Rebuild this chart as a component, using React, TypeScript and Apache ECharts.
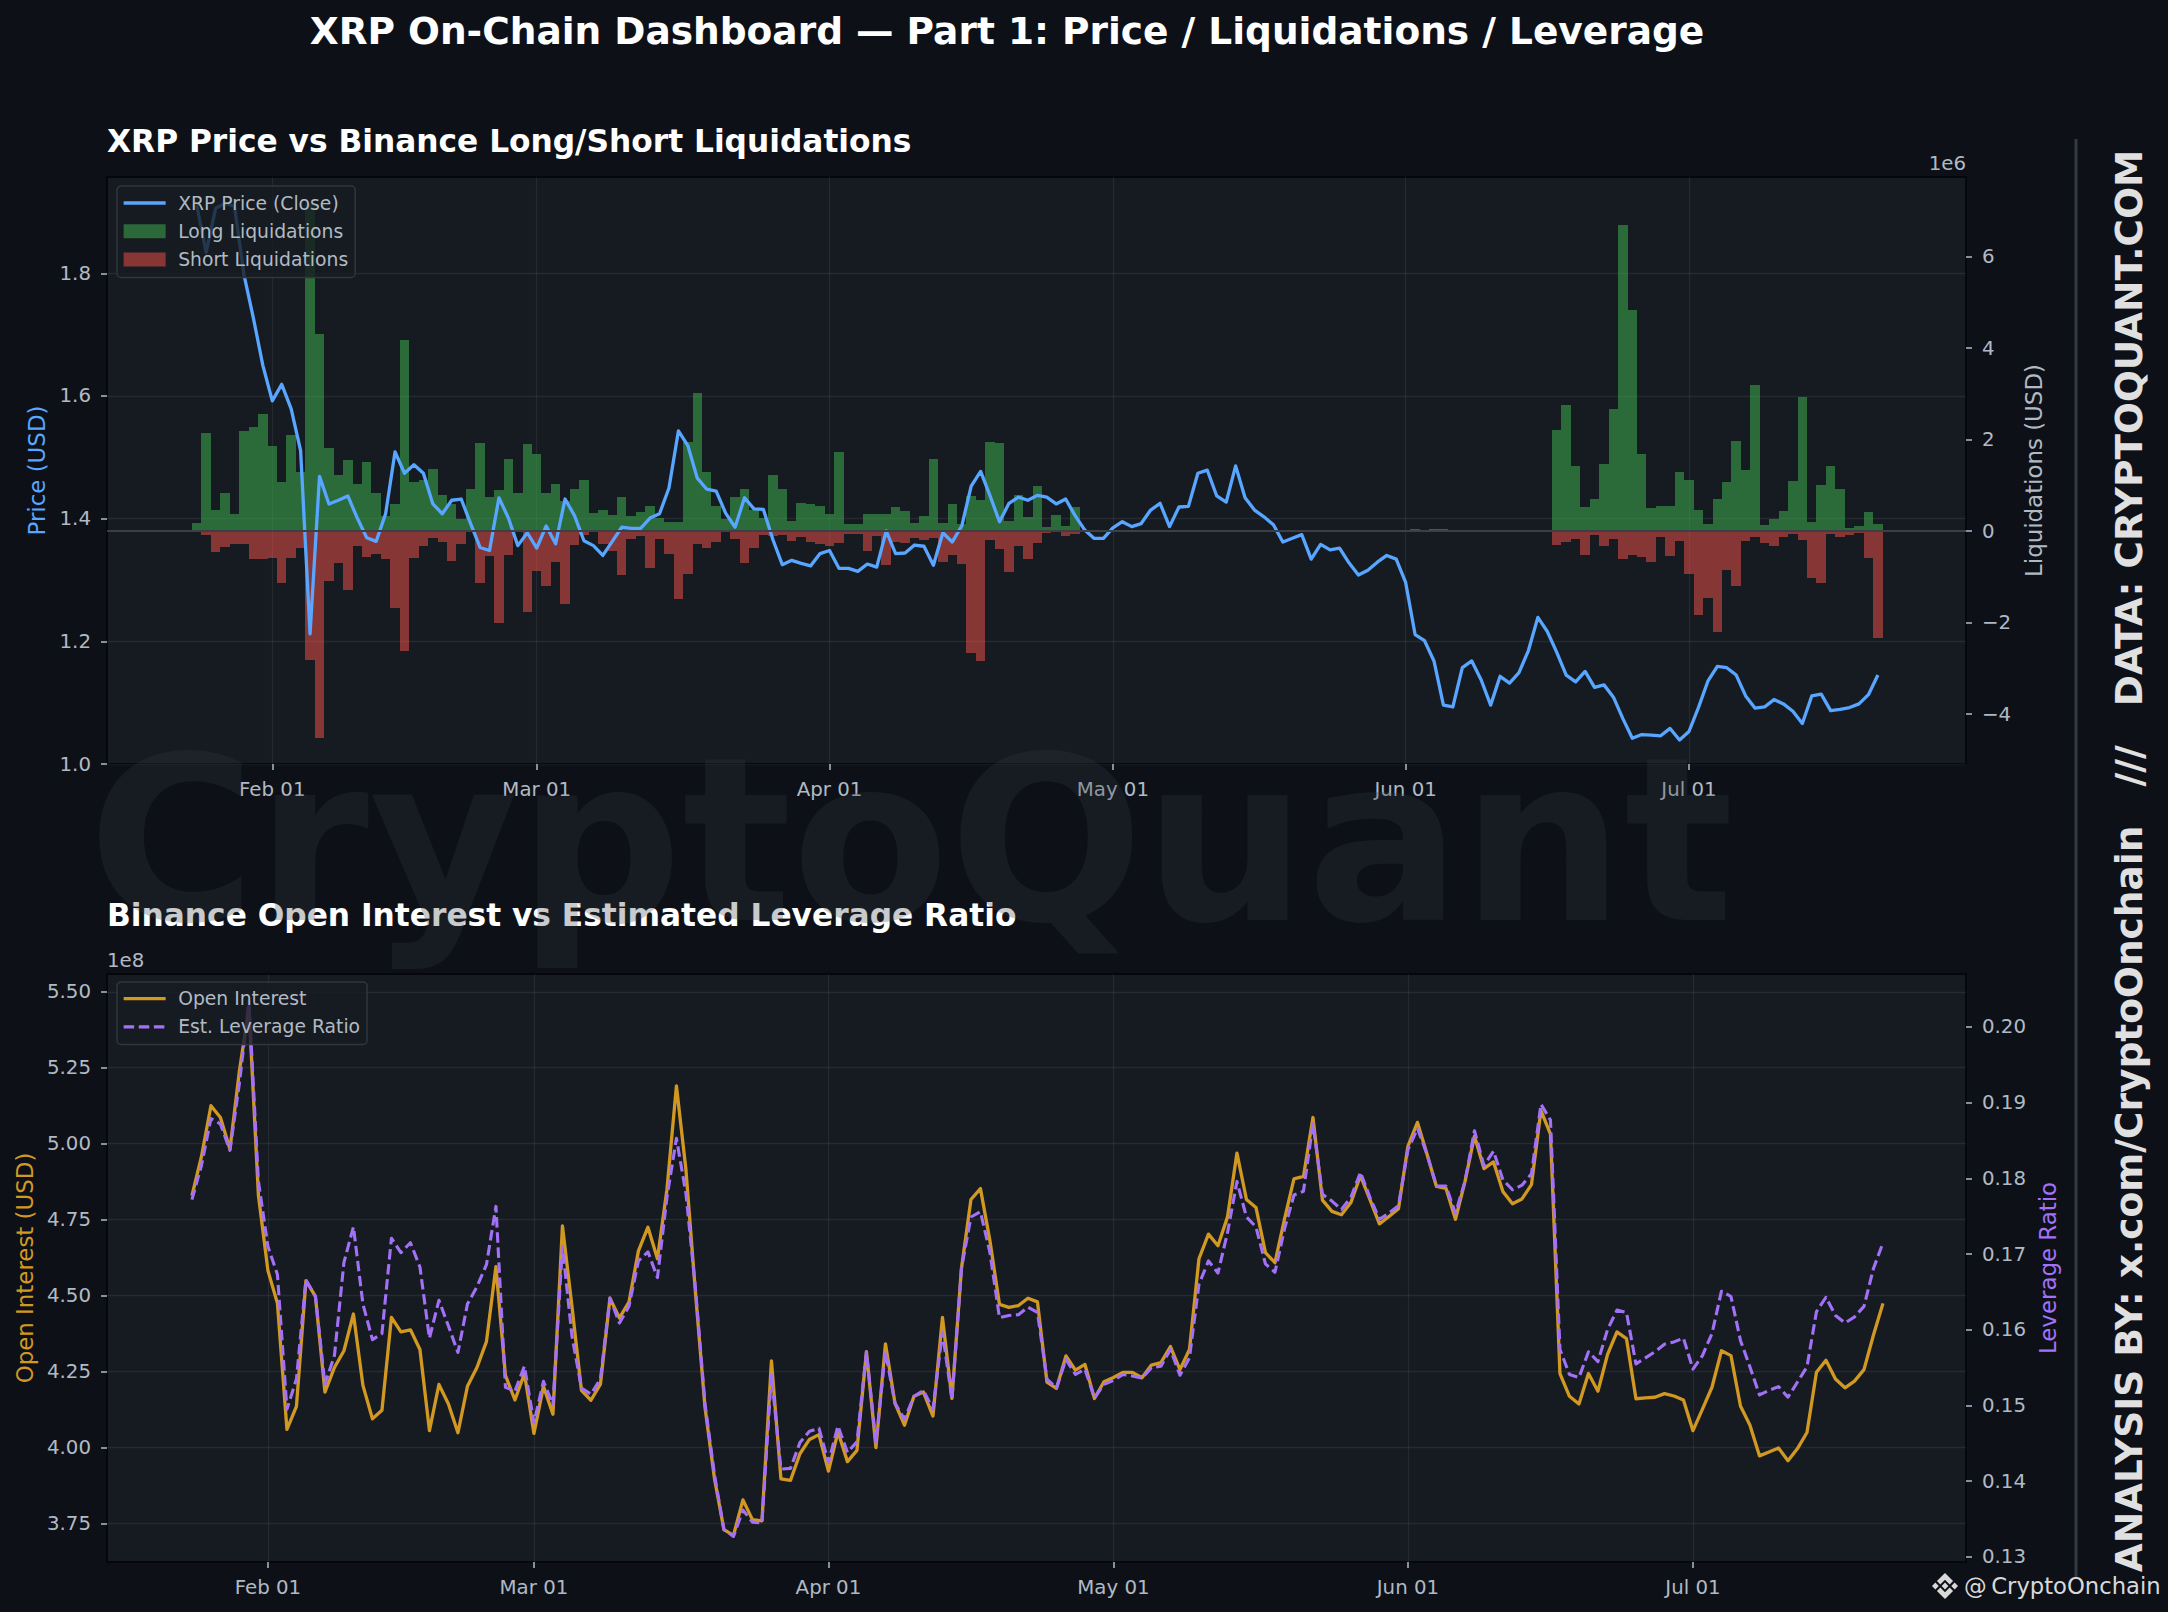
import React, { useEffect, useRef } from "react";
import * as echarts from "echarts";

const FONT = "DejaVu Sans";
const START_DAY = Date.UTC(2026, 0, 24);
const DAY = 86400000;

const priceClose = [
  1.911,1.834,1.906,1.914,1.909,1.798,1.727,1.650,1.592,1.619,
  1.579,1.511,1.212,1.469,1.424,1.430,1.437,1.401,1.369,1.363,
  1.408,1.509,1.474,1.488,1.474,1.424,1.408,1.430,1.432,1.392,
  1.353,1.348,1.434,1.401,1.356,1.377,1.352,1.388,1.359,1.432,
  1.405,1.364,1.356,1.340,1.363,1.386,1.384,1.384,1.401,1.408,
  1.450,1.543,1.519,1.466,1.448,1.445,1.409,1.386,1.434,1.416,
  1.415,1.366,1.325,1.332,1.327,1.323,1.343,1.348,1.319,1.319,
  1.314,1.326,1.321,1.380,1.343,1.344,1.357,1.355,1.324,1.377,
  1.362,1.388,1.453,1.477,1.437,1.395,1.425,1.435,1.430,1.438,
  1.435,1.424,1.432,1.405,1.382,1.368,1.368,1.385,1.395,1.387,
  1.392,1.414,1.425,1.387,1.419,1.420,1.474,1.479,1.437,1.427,
  1.486,1.434,1.414,1.403,1.390,1.362,1.368,1.374,1.334,1.358,
  1.349,1.352,1.328,1.308,1.316,1.329,1.340,1.334,1.296,1.211,
  1.201,1.168,1.096,1.093,1.157,1.168,1.137,1.096,1.143,1.132,
  1.149,1.185,1.239,1.216,1.182,1.145,1.134,1.151,1.125,1.129,
  1.109,1.074,1.042,1.048,1.047,1.046,1.058,1.039,1.053,1.092,
  1.135,1.159,1.157,1.145,1.111,1.091,1.093,1.105,1.098,1.086,
  1.066,1.111,1.114,1.087,1.089,1.092,1.098,1.113,1.145,
];

const longLiq = [
  .17,2.14,.47,.83,.37,2.18,2.27,2.57,1.87,1.07,
  2.10,1.29,7.15,4.30,1.81,1.22,1.55,1.03,1.50,.83,
  .33,.59,4.17,1.08,1.11,1.36,.79,.60,.26,.93,
  1.92,.74,.89,1.57,.83,1.90,1.68,.83,1.03,.66,
  .92,1.11,.39,.47,.35,.74,.33,.41,.54,.28,
  .20,.20,1.94,3.01,1.29,.54,.26,.74,.93,.46,
  .28,1.22,.93,.22,.61,.59,.54,.37,1.74,.15,
  .15,.37,.37,.37,.52,.43,.17,.33,1.57,.18,
  .59,.16,.76,.67,1.94,1.92,.22,.80,.30,.98,
  .09,.35,.11,.52,0,0,0,0,0,0,
  0,0,0,0,0,0,0,0,0,0,
  0,0,0,0,0,0,0,0,0,0,
  0,0,0,0,0,0,0,0,0,.04,
  .01,.04,.04,0,0,0,0,0,0,0,
  0,0,0,0,2.20,2.75,1.42,.52,.70,1.46,
  2.66,6.68,4.83,1.68,.50,.56,.54,1.29,1.11,.46,
  .15,.70,1.07,1.96,1.33,3.20,.13,.26,.44,1.10,
  2.93,.20,1.00,1.43,.93,.07,.11,.41,.15,
];

const shortLiq = [
  0,-.08,-.45,-.35,-.28,-.28,-.60,-.60,-.59,-1.13,
  -.59,-.36,-2.82,-4.53,-1.09,-.70,-1.28,-.32,-.56,-.50,
  -.60,-1.68,-2.63,-.59,-.32,-.15,-.23,-.65,-.28,-.02,
  -1.13,-.54,-2.00,-.52,-.02,-1.76,-.87,-1.19,-.68,-1.59,
  -.30,-.09,-.02,-.29,-.43,-.96,-.17,-.10,-.80,-.17,
  -.49,-1.48,-.93,-.28,-.36,-.23,-.02,-.17,-.70,-.36,
  -.09,-.10,-.08,-.22,-.12,-.24,-.28,-.32,-.26,-.06,
  -.06,-.43,-.11,-.73,-.23,-.26,-.16,-.19,-.16,-.68,
  -.52,-.72,-2.66,-2.83,-.20,-.39,-.89,-.32,-.60,-.26,
  -.04,-.03,-.10,-.06,0,0,0,0,0,0,
  0,0,0,0,0,0,0,0,0,0,
  0,0,0,0,0,0,0,0,0,0,
  0,0,0,0,0,0,0,0,0,0,
  0,0,0,0,0,0,0,0,0,0,
  0,0,0,0,-.30,-.23,-.17,-.52,-.08,-.32,
  -.17,-.60,-.52,-.56,-.68,-.12,-.54,-.22,-.94,-1.83,
  -1.46,-2.20,-.85,-1.19,-.22,-.13,-.26,-.33,-.13,-.07,
  -.20,-1.03,-1.14,-.07,-.13,-.09,-.04,-.59,-2.34,
];

const openInterest = [
  4.829,4.957,5.125,5.086,4.982,5.240,5.448,4.829,4.582,4.474,
  4.059,4.135,4.549,4.497,4.182,4.263,4.318,4.439,4.204,4.094,
  4.122,4.428,4.380,4.387,4.322,4.055,4.207,4.143,4.048,4.201,
  4.263,4.348,4.595,4.237,4.156,4.243,4.046,4.201,4.109,4.729,
  4.465,4.188,4.155,4.208,4.491,4.426,4.478,4.647,4.725,4.621,
  4.849,5.190,4.914,4.510,4.133,3.898,3.729,3.710,3.827,3.762,
  3.758,4.285,3.896,3.891,3.979,4.026,4.042,3.922,4.051,3.953,
  3.990,4.315,3.999,4.341,4.146,4.073,4.168,4.182,4.103,4.428,
  4.161,4.589,4.816,4.852,4.680,4.471,4.461,4.467,4.491,4.479,
  4.215,4.194,4.301,4.254,4.273,4.161,4.216,4.230,4.247,4.247,
  4.229,4.271,4.279,4.332,4.256,4.322,4.621,4.702,4.664,4.758,
  4.969,4.816,4.790,4.641,4.608,4.751,4.884,4.892,5.086,4.814,
  4.777,4.766,4.806,4.895,4.816,4.736,4.760,4.786,4.992,5.070,
  4.966,4.859,4.853,4.751,4.875,5.025,4.918,4.940,4.842,4.802,
  4.818,4.865,5.109,5.031,4.243,4.168,4.143,4.243,4.185,4.305,
  4.380,4.358,4.160,4.163,4.165,4.177,4.169,4.156,4.055,4.126,
  4.198,4.318,4.302,4.136,4.073,3.972,3.985,3.998,3.956,3.996,
  4.049,4.247,4.287,4.225,4.196,4.218,4.256,4.370,4.474,
];

const leverageRatio = [
  .1772,.1817,.1879,.1872,.1837,.1926,.2034,.1796,.1710,.1673,
  .1495,.1535,.1666,.1644,.1528,.1566,.1689,.1736,.1634,.1587,
  .1595,.1721,.1702,.1715,.1683,.1589,.1639,.1605,.1570,.1634,
  .1657,.1686,.1763,.1524,.1519,.1552,.1477,.1532,.1501,.1710,
  .1592,.1523,.1515,.1535,.1642,.1609,.1631,.1691,.1703,.1669,
  .1775,.1853,.1780,.1655,.1503,.1409,.1336,.1327,.1362,.1346,
  .1345,.1540,.1416,.1417,.1451,.1466,.1470,.1425,.1473,.1438,
  .1452,.1571,.1451,.1571,.1503,.1482,.1512,.1520,.1495,.1597,
  .1508,.1681,.1749,.1756,.1702,.1616,.1619,.1620,.1630,.1623,
  .1535,.1523,.1561,.1541,.1548,.1510,.1528,.1533,.1541,.1539,
  .1536,.1550,.1552,.1574,.1540,.1563,.1660,.1691,.1675,.1728,
  .1796,.1749,.1736,.1687,.1676,.1733,.1778,.1783,.1872,.1779,
  .1770,.1759,.1775,.1808,.1775,.1746,.1754,.1764,.1838,.1866,
  .1832,.1790,.1790,.1754,.1796,.1863,.1817,.1836,.1798,.1785,
  .1791,.1806,.1898,.1877,.1574,.1541,.1537,.1571,.1558,.1600,
  .1626,.1623,.1555,.1563,.1571,.1581,.1584,.1589,.1548,.1566,
  .1595,.1651,.1644,.1586,.1551,.1514,.1520,.1525,.1511,.1531,
  .1551,.1624,.1643,.1619,.1609,.1617,.1631,.1681,.1715,
];

const priceTicks = [1.0, 1.2, 1.4, 1.6, 1.8];
const liqTicks = [-4, -2, 0, 2, 4, 6];
const oiTicks = [3.75, 4.0, 4.25, 4.5, 4.75, 5.0, 5.25, 5.5];
const levTicks = [0.13, 0.14, 0.15, 0.16, 0.17, 0.18, 0.19, 0.2];
const monthTicks = [1, 2, 3, 4, 5, 6].map((m) => Date.UTC(2026, m, 1));
const MONTHS = ["Jan", "Feb", "Mar", "Apr", "May", "Jun", "Jul"];

const BG = "#0d1117";
const PANEL = "#161b22";
const TXT = "#b1bac4";
const GRIDC = "rgba(255,255,255,0.065)";
const BLUE = "#58a6ff";
const GOLD = "#d29922";
const PURPLE = "#a371f7";
const GREEN_A = "rgba(63,185,80,0.5)";
const RED_A = "rgba(248,81,73,0.5)";
const TICK_FS = 19.8;
const NAME_FS = 22.9;

const LOGO_PATH =
  "M12 2 L18.2 8.2 L15.6 10.8 L12 7.2 L8.4 10.8 L5.8 8.2 Z M2 12 L4.6 9.4 L7.2 12 L4.6 14.6 Z M12 9.4 L14.6 12 L12 14.6 L9.4 12 Z M16.8 12 L19.4 9.4 L22 12 L19.4 14.6 Z M12 16.8 L15.6 13.2 L18.2 15.8 L12 22 L5.8 15.8 L8.4 13.2 Z";
echarts.graphic.registerShape("logo", echarts.graphic.extendPath(LOGO_PATH, {}));

const dates = priceClose.map((_, i) => START_DAY + i * DAY);
const pairs = (vals: number[]) => vals.map((v, i) => [dates[i], v]);

const monthLabel = (v: number) => {
  const d = new Date(v);
  return MONTHS[d.getUTCMonth()] + " 0" + d.getUTCDate();
};
const minusFmt = (v: number) => String(v).replace("-", "\u2212");

function xAxis(gridIndex: number, min: number, max: number) {
  return {
    type: "value",
    gridIndex,
    min,
    max,
    axisLine: { show: false, onZero: false },
    axisTick: { show: true, length: 6, customValues: monthTicks, lineStyle: { color: TXT, width: 1.5 } },
    axisLabel: {
      color: TXT,
      fontFamily: FONT,
      fontSize: TICK_FS,
      margin: 15.5,
      customValues: monthTicks,
      formatter: monthLabel,
      hideOverlap: false,
      showMinLabel: true,
      showMaxLabel: true,
    },
    splitLine: { show: true, lineStyle: { color: GRIDC, width: 1.3 } },
  };
}

function yAxis(
  gridIndex: number,
  position: string,
  min: number,
  max: number,
  ticks: number[],
  fmt: (v: number) => string,
  name: string,
  nameColor: string,
  nameGap: number,
  grid: boolean,
) {
  return {
    type: "value",
    gridIndex,
    position,
    min,
    max,
    name,
    nameLocation: "middle",
    nameGap,
    nameRotate: 90,
    nameTextStyle: { color: nameColor, fontFamily: FONT, fontSize: NAME_FS },
    axisLine: { show: false, onZero: false },
    axisTick: { show: true, length: 6, customValues: ticks, lineStyle: { color: TXT, width: 1.5 } },
    axisLabel: {
      color: TXT,
      fontFamily: FONT,
      fontSize: TICK_FS,
      margin: 16,
      customValues: ticks,
      formatter: fmt,
      hideOverlap: false,
      showMinLabel: true,
      showMaxLabel: true,
    },
    splitLine: { show: grid, lineStyle: { color: GRIDC, width: 1.3 } },
  };
}

// One rectangle per day, one day wide, snapped to whole pixels so that
// neighbouring translucent bars neither overlap nor leave a seam.
function barRenderer(fill: string) {
  return (_params: any, api: any) => {
    const t = api.value(0);
    const v = api.value(1);
    if (!v) return undefined;
    const x0 = Math.round(api.coord([t - DAY / 2, 0])[0]);
    const x1 = Math.round(api.coord([t + DAY / 2, 0])[0]);
    const y0 = Math.round(api.coord([t, 0])[1]);
    const y1 = Math.round(api.coord([t, v])[1]);
    return {
      type: "rect",
      shape: { x: x0, y: Math.min(y0, y1), width: x1 - x0, height: Math.abs(y1 - y0) },
      style: { fill },
    };
  };
}

const hiddenMarker = { color: "rgba(0,0,0,0)", borderColor: "rgba(0,0,0,0)", borderWidth: 0 };

const legendBase = {
  orient: "vertical",
  align: "left",
  itemWidth: 42,
  itemHeight: 14,
  itemGap: 9.25,
  backgroundColor: "rgba(22,27,34,0.8)",
  borderColor: "#30363d",
  borderWidth: 1.5,
  borderRadius: 4,
  lineStyle: { width: 3.3 },
  textStyle: { color: TXT, fontFamily: FONT, fontSize: 18.75, padding: [0, 0, 0, 7.5] },
};

function buildOption() {
  return {
    animation: false,
    backgroundColor: BG,
    title: [
      {
        text: "XRP On-Chain Dashboard \u2014 Part 1: Price / Liquidations / Leverage",
        left: 1007,
        top: 11.7,
        textAlign: "center",
        padding: 0,
        textStyle: { color: "#ffffff", fontFamily: FONT, fontWeight: "bold", fontSize: 37.5 },
      },
      {
        text: "XRP Price vs Binance Long/Short Liquidations",
        left: 107,
        top: 125,
        padding: 0,
        textStyle: { color: "#ffffff", fontFamily: FONT, fontWeight: "bold", fontSize: 31.25 },
      },
      {
        text: "Binance Open Interest vs Estimated Leverage Ratio",
        left: 107,
        top: 899,
        padding: 0,
        textStyle: { color: "#ffffff", fontFamily: FONT, fontWeight: "bold", fontSize: 31.25 },
      },
    ],
    grid: [
      { left: 107, width: 1859, top: 177, height: 587, show: true, backgroundColor: PANEL, borderColor: "#05070a", borderWidth: 2, containLabel: false },
      { left: 107, width: 1859, top: 974, height: 588, show: true, backgroundColor: PANEL, borderColor: "#05070a", borderWidth: 2, containLabel: false },
    ],
    legend: [
      {
        ...legendBase,
        left: 117,
        top: 186,
        padding: [7.5, 7, 8.5, 5],
        data: [
          { name: "XRP Price (Close)", itemStyle: hiddenMarker },
          { name: "Long Liquidations", icon: "rect" },
          { name: "Short Liquidations", icon: "rect" },
        ],
      },
      {
        ...legendBase,
        left: 117,
        top: 982,
        padding: [7.1, 7, 8.1, 5],
        data: [
          { name: "Open Interest", itemStyle: hiddenMarker },
          { name: "Est. Leverage Ratio", itemStyle: hiddenMarker },
        ],
      },
    ],
    xAxis: [
      xAxis(0, Date.UTC(2026, 1, 1) - 17.5 * DAY, Date.UTC(2026, 6, 1) + 29.33 * DAY),
      xAxis(1, Date.UTC(2026, 1, 1) - 16.94 * DAY, Date.UTC(2026, 6, 1) + 28.74 * DAY),
    ],
    yAxis: [
      yAxis(0, "left", 1.0, 1.957, priceTicks, (v) => v.toFixed(1), "Price (USD)", BLUE, 55.5, true),
      yAxis(0, "right", -5.09, 7.74, liqTicks, minusFmt, "Liquidations (USD)", TXT, 48.5, false),
      yAxis(1, "left", 3.6225, 5.5586, oiTicks, (v) => v.toFixed(2), "Open Interest (USD)", GOLD, 70.5, true),
      yAxis(1, "right", 0.12933, 0.207, levTicks, (v) => v.toFixed(2), "Leverage Ratio", PURPLE, 70.5, false),
    ],
    series: [
      {
        name: "XRP Price (Close)",
        type: "line",
        xAxisIndex: 0,
        yAxisIndex: 0,
        data: pairs(priceClose),
        symbol: "none",
        color: BLUE,
        lineStyle: { color: BLUE, width: 3.3, join: "round" },
      },
      {
        name: "Long Liquidations",
        type: "custom",
        xAxisIndex: 0,
        yAxisIndex: 1,
        data: pairs(longLiq),
        encode: { x: 0, y: 1 },
        renderItem: barRenderer(GREEN_A),
        color: GREEN_A,
        itemStyle: { color: GREEN_A },
      },
      {
        name: "Short Liquidations",
        type: "custom",
        xAxisIndex: 0,
        yAxisIndex: 1,
        data: pairs(shortLiq),
        encode: { x: 0, y: 1 },
        renderItem: barRenderer(RED_A),
        color: RED_A,
        itemStyle: { color: RED_A },
        markLine: {
          silent: true,
          symbol: "none",
          label: { show: false },
          lineStyle: { color: "#3c3f45", width: 2, type: "solid" },
          data: [{ yAxis: 0 }],
        },
      },
      {
        name: "Open Interest",
        type: "line",
        xAxisIndex: 1,
        yAxisIndex: 2,
        data: pairs(openInterest),
        symbol: "none",
        color: GOLD,
        lineStyle: { color: GOLD, width: 3.3, join: "round" },
      },
      {
        name: "Est. Leverage Ratio",
        type: "line",
        xAxisIndex: 1,
        yAxisIndex: 3,
        data: pairs(leverageRatio),
        symbol: "none",
        color: PURPLE,
        lineStyle: { color: PURPLE, width: 3.1, type: [10.5, 4.6], join: "round" },
      },
    ],
    graphic: [
      {
        type: "text",
        x: 88,
        y: 955,
        z: 100,
        silent: true,
        style: {
          text: "CryptoQuant",
          fontFamily: FONT,
          fontWeight: "bold",
          fontSize: 229,
          fill: "rgba(52,58,68,0.27)",
          align: "left",
          verticalAlign: "bottom",
        },
      },
      { type: "text", x: 1966, y: 163, z: 10, style: { text: "1e6", fontFamily: FONT, fontSize: TICK_FS, fill: TXT, align: "right", verticalAlign: "middle" } },
      { type: "text", x: 107, y: 960, z: 10, style: { text: "1e8", fontFamily: FONT, fontSize: TICK_FS, fill: TXT, align: "left", verticalAlign: "middle" } },
      { type: "rect", z: 10, shape: { x: 2074.5, y: 139, width: 3, height: 1438 }, style: { fill: "#343a44" } },
      {
        type: "text",
        x: 2129,
        y: 861,
        z: 10,
        rotation: Math.PI / 2,
        style: {
          text: "ANALYSIS BY: x.com/CryptoOnchain   ///   DATA: CRYPTOQUANT.COM",
          fontFamily: FONT,
          fontWeight: "bold",
          fontSize: 37.5,
          fill: "#e0e0e0",
          align: "center",
          verticalAlign: "middle",
        },
      },
      { type: "logo", x: 1929.4, y: 1570.4, scaleX: 1.3, scaleY: 1.3, z: 11, style: { fill: "#d9d9d9" } },
      {
        type: "text",
        x: 1964,
        y: 1586,
        z: 11,
        style: { text: "@\u2009CryptoOnchain", fontFamily: FONT, fontSize: 22.7, fill: "#d9d9d9", align: "left", verticalAlign: "middle" },
      },
    ],
  };
}

export default function App() {
  const ref = useRef<HTMLDivElement>(null);
  useEffect(() => {
    document.body.style.margin = "0";
    document.body.style.background = BG;
    const chart = echarts.init(ref.current!, undefined, { renderer: "svg" });
    chart.setOption(buildOption() as any);
    return () => chart.dispose();
  }, []);
  return <div ref={ref} style={{ width: 2168, height: 1612 }} />;
}
